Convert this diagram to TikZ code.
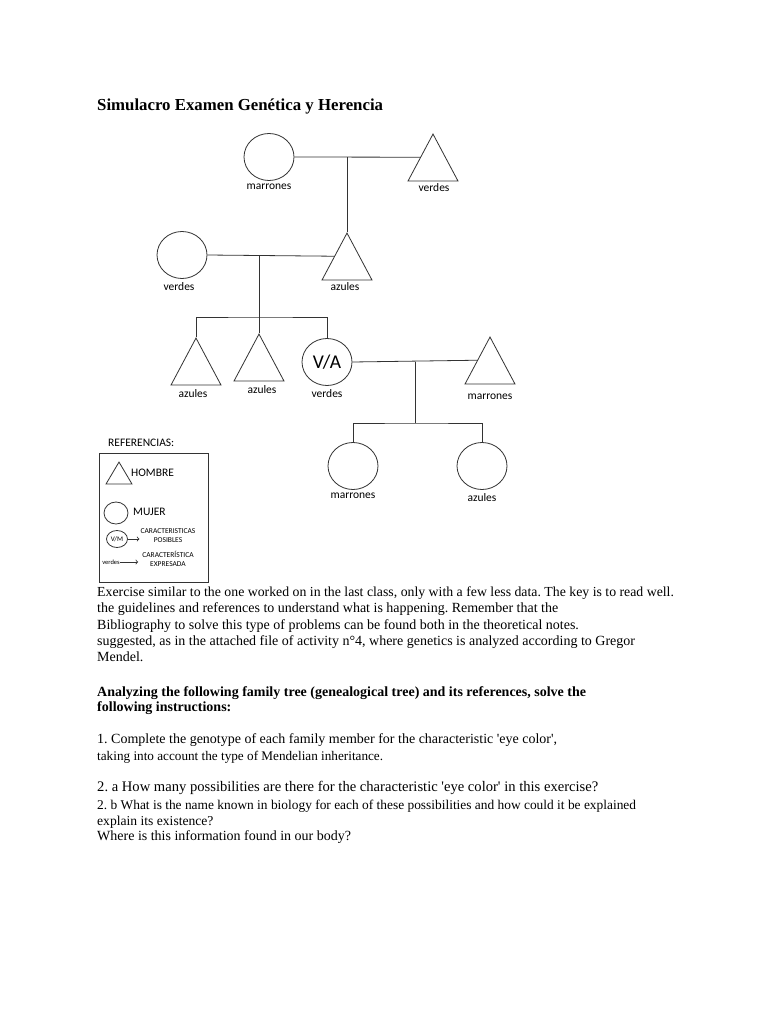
\documentclass[tikz,border=0pt]{standalone}
\usepackage{fontspec}
\setmainfont{Liberation Serif}[Ligatures=TeXOff]
\newfontfamily\dibujo{Carlito}
\usetikzlibrary{shapes.geometric}
\frenchspacing

\begin{document}
\begin{tikzpicture}[x=1pt,y=-1pt,
	linea/.style={draw=black!80, line width=0.8pt},
	hombre/.style={linea, isosceles triangle, isosceles triangle stretches, shape border rotate=90, minimum width=50pt, minimum height=47pt, inner sep=0pt, anchor=apex},
	mujer/.style={linea, ellipse, minimum width=50pt, minimum height=47pt, inner sep=0pt},
	etiq/.style={font=\dibujo\fontsize{11.5}{13}\selectfont, inner sep=0pt},
	leyenda/.style={font=\dibujo\fontsize{7.5}{9}\selectfont, inner sep=0pt, align=center},
	texto/.style={anchor=base west, inner sep=0pt, font=\fontsize{14}{16}\selectfont},
	chico/.style={texto, font=\fontsize{13.3}{15}\selectfont}]
	\fill[white] (0,0) rectangle (768,1024);
	\useasboundingbox (0,0) rectangle (768,1024);

	\node[anchor=base west, inner sep=0pt, font=\bfseries\fontsize{16.8}{18}\selectfont] (titulo) at (97,111) {Simulacro Examen Genética y Herencia};

	% abuelos
	\node[mujer] (abuela) at (269,157) {};
	\node[hombre] (abuelo) at (433,133) {};
	\node[etiq] (l1) at (269,187) {marrones};
	\node[etiq] (l2) at (434,188) {verdes};
	\draw[linea] (abuela.east) -- (abuelo.left side);

	% padres
	\node[mujer] (madre) at (182,255) {};
	\node[hombre] (padre) at (347,232) {};
	\node[etiq] (l3) at (179,287) {verdes};
	\node[etiq] (l4) at (345,287) {azules};
	\draw[linea] (padre.apex) -- (padre.apex |- abuela.east);
	\draw[linea] (madre.east) -- (padre.left side);

	% hijos
	\node[hombre] (hijo1) at (196,337) {};
	\node[hombre] (hijo2) at (259,333) {};
	\node[mujer, font=\dibujo\fontsize{19.5}{20}\selectfont] (hija) at (327,362) {V/A};
	\node[hombre] (yerno) at (490,336) {};
	\node[etiq] (l5) at (193,394) {azules};
	\node[etiq] (l6) at (262,390) {azules};
	\node[etiq] (l7) at (327,394) {verdes};
	\node[etiq] (l8) at (490,397) {marrones};
	\coordinate (rama) at (259,317);
	\draw[linea] (hijo2.apex) -- (hijo2.apex |- madre.east);
	\draw[linea] (hijo1.apex) |- (rama) -| (hija.north);
	\draw[linea] (hija.east) -- (yerno.left side);

	% nietas
	\node[mujer] (nieta1) at (353,466) {};
	\node[mujer] (nieta2) at (482,466) {};
	\node[etiq] (l9) at (353,496) {marrones};
	\node[etiq] (l10) at (482,498) {azules};
	\coordinate (rama2) at (415,423);
	\draw[linea] (rama2 |- hija.east) -- (rama2);
	\draw[linea] (nieta1.north) |- (rama2) -| (nieta2.north);

	% referencias
	\node[etiq, anchor=west] (ref) at (108,443) {REFERENCIAS:};
	\draw[linea] (99,453) rectangle (208,582);
	\node[hombre, minimum width=26pt, minimum height=22pt] (lh) at (119,461) {};
	\node[etiq, anchor=west] (lhombre) at (131,473) {HOMBRE};
	\node[mujer, minimum width=24pt, minimum height=22pt] (lm) at (116,513) {};
	\node[etiq, anchor=west] (lmujer) at (133,512) {MUJER};
	\node[mujer, minimum width=21pt, minimum height=17pt, font=\dibujo\fontsize{7}{8}\selectfont] (lvm) at (117,539) {V/M};
	\node[leyenda] (lposib) at (168,535.5) {CARACTERISTICAS\\POSIBLES};
	\draw[linea, ->] (lvm.east) -- ([xshift=-1pt]lvm.east -| lposib.west);
	\node[leyenda, font=\dibujo\fontsize{6.5}{8}\selectfont] (lverdes) at (111,562) {verdes};
	\node[leyenda] (lexpr) at (168,558.5) {CARACTERÍSTICA\\EXPRESADA};
	\draw[linea, ->] (lverdes.east) -- ([xshift=-4pt]lverdes.east -| lexpr.west);

	% texto
	\node[texto, font=\fontsize{13.8}{16}\selectfont] (t1) at (97,596) {Exercise similar to the one worked on in the last class, only with a few less data. The key is to read well.};
	\node[texto] (t2) at (97,612) {the guidelines and references to understand what is happening. Remember that the};
	\node[texto] (t3) at (97,629) {Bibliography to solve this type of problems can be found both in the theoretical notes.};
	\node[texto] (t4) at (97,645) {suggested, as in the attached file of activity n°4, where genetics is analyzed according to Gregor};
	\node[texto] (t5) at (97,661) {Mendel.};
	\node[texto, font=\bfseries\fontsize{14}{16}\selectfont] (t6) at (97,696) {Analyzing the following family tree (genealogical tree) and its references, solve the};
	\node[texto, font=\bfseries\fontsize{14}{16}\selectfont] (t7) at (97,711) {following instructions:};
	\node[texto] (t8) at (97,743) {1. Complete the genotype of each family member for the characteristic 'eye color',};
	\node[chico, font=\fontsize{13.2}{15}\selectfont] (t9) at (97,760) {taking into account the type of Mendelian inheritance.};
	\node[texto, font=\fontsize{14.6}{17}\selectfont] (t10) at (97,791) {2. a How many possibilities are there for the characteristic 'eye color' in this exercise?};
	\node[chico, font=\fontsize{13.4}{15}\selectfont] (t11) at (97,809) {2. b What is the name known in biology for each of these possibilities and how could it be explained};
	\node[chico, font=\fontsize{13.6}{15}\selectfont] (t12) at (97,825) {explain its existence?};
	\node[texto] (t13) at (97,840) {Where is this information found in our body?};
\end{tikzpicture}
\end{document}
